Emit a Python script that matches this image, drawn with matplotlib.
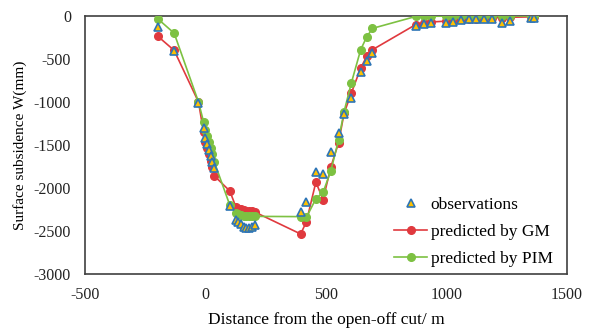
import matplotlib
matplotlib.use("Agg")
import matplotlib.pyplot as plt

plt.rcParams['font.family'] = ['Liberation Serif', 'DejaVu Serif']
plt.rcParams['axes.unicode_minus'] = False

# Distance from the open-off cut (m)
x = [-199, -130, -29, -8, 0, 8, 15, 22, 29, 37, 101,
     126, 136, 147, 158, 167, 181, 192, 205,
     395, 419, 458, 488, 520, 552, 575, 605, 644, 669, 693,
     873, 907, 935, 997, 1025, 1059, 1094, 1122, 1156, 1188, 1229, 1263, 1350, 1364]

observations = [-124, -407, -1008, -1300, -1420, -1490, -1560, -1630, -1700, -1770, -2210,
                -2370, -2400, -2420, -2450, -2460, -2460, -2450, -2430,
                -2283, -2158, -1815, -1834, -1581, -1359, -1140, -950, -657, -529, -436,
                -111, -88, -85, -78, -67, -47, -40, -40, -40, -40, -78, -55, -20, -20]

pred_gm = [-233, -400, -1000, -1350, -1460, -1540, -1610, -1690, -1760, -1860, -2035,
           -2220, -2240, -2250, -2260, -2270, -2270, -2270, -2280,
           -2535, -2390, -1932, -2134, -1757, -1476, -1132, -898, -606, -470, -392,
           -99, -80, -70, -60, -50, -40, -35, -30, -25, -20, -20, -15, -10, -10]

pred_pim = [-30, -200, -1000, -1230, -1320, -1400, -1470, -1540, -1610, -1700, -2200,
            -2290, -2300, -2310, -2320, -2325, -2330, -2330, -2330,
            -2333, -2340, -2126, -2049, -1803, -1444, -1113, -781, -392, -243, -144,
            -5, -4, -3, -2, -2, -1, -1, 0, 0, 0, 0, 0, 0, 0]

x_ticks = [-500, 0, 500, 1000, 1500]
y_ticks = [0, -500, -1000, -1500, -2000, -2500, -3000]

fig = plt.figure(figsize=(5.89, 3.29), dpi=100)
ax = fig.add_axes([0.1443, 0.1672, 0.8183, 0.7842])

red = '#E0393E'
green = '#7DC142'
ax.plot(x, pred_gm, color=red, lw=1.2, marker='o', ms=5.5, mfc=red, mec=red,
        label='predicted by GM', zorder=3)
ax.plot(x, pred_pim, color=green, lw=1.2, marker='o', ms=5.5, mfc=green, mec=green,
        label='predicted by PIM', zorder=4)
ax.plot(x, observations, ls='none', marker='^', ms=6, mfc='#FFC000', mec='#2E75B6',
        mew=1.2, label='observations', zorder=5)

ax.set_xlim(-500, 1500)
ax.set_ylim(-3000, 0)
ax.set_xticks(x_ticks)
ax.set_yticks(y_ticks)
ax.tick_params(length=0, labelsize=11.5, colors='#222222')
ax.tick_params(axis='y', pad=10)
ax.tick_params(axis='x', pad=9.5)
for s in ax.spines.values():
    s.set_color('#404040')
    s.set_linewidth(1.2)

ax.set_xlabel('Distance from the open-off cut/ m', fontsize=12.5, labelpad=6)
ax.set_ylabel('Surface subsidence W(mm)', fontsize=11, labelpad=5)

h, l = ax.get_legend_handles_labels()
order = [2, 0, 1]
ax.legend([h[i] for i in order], [l[i] for i in order], loc='lower right',
          bbox_to_anchor=(1.003, -0.032), frameon=False, fontsize=12.5,
          handlelength=1.9, labelspacing=0.62, handletextpad=0.2)

fig.savefig('out.png', dpi=100)
